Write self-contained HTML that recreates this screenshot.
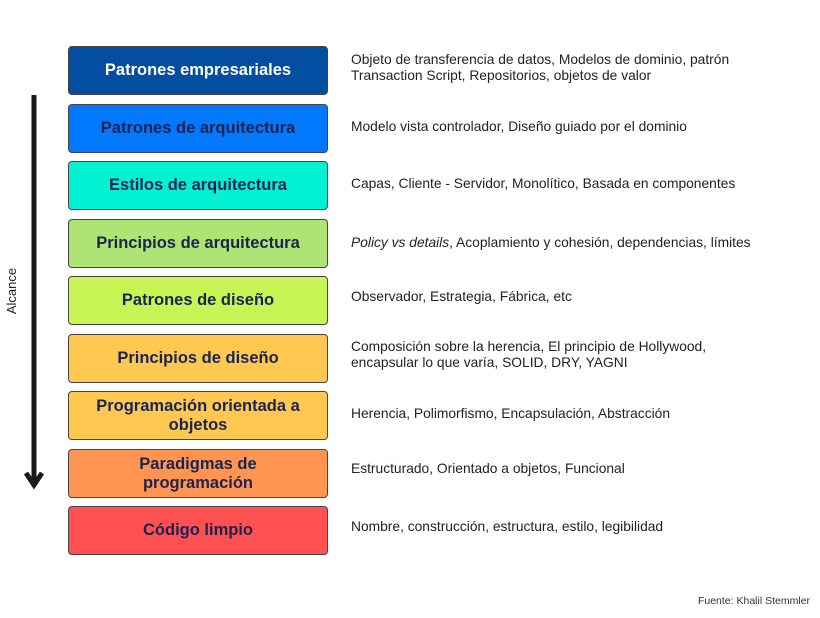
<!DOCTYPE html>
<html><head><meta charset="utf-8"><style>
body{margin:0;width:820px;height:618px;background:#fff;position:relative;font-family:"Liberation Sans",sans-serif;overflow:hidden}
.b{position:absolute;left:68px;width:258px;height:47px;border:1.5px solid #444;border-radius:4px;display:flex;align-items:center;justify-content:center;text-align:center;font-weight:bold;font-size:16.5px;line-height:19px;color:#1b2350}
.t{position:absolute;left:351px;font-size:13.8px;line-height:16px;color:#222;display:flex;align-items:center;height:49px;white-space:nowrap}
</style></head><body>
<div class="b" style="top:46px;background:#034ea0;color:#fff">Patrones empresariales</div>
<div class="b" style="top:104px;background:#0178fe">Patrones de arquitectura</div>
<div class="b" style="top:161px;background:#02f1d2">Estilos de arquitectura</div>
<div class="b" style="top:219px;background:#ade474">Principios de arquitectura</div>
<div class="b" style="top:276px;background:#c7f553">Patrones de diseño</div>
<div class="b" style="top:334px;background:#ffc851">Principios de diseño</div>
<div class="b" style="top:391px;background:#ffc851">Programación orientada a<br>objetos</div>
<div class="b" style="top:449px;background:#ff9551">Paradigmas de<br>programación</div>
<div class="b" style="top:506px;background:#ff5052">Código limpio</div>
<div class="t" style="top:43px">Objeto de transferencia de datos, Modelos de dominio, patrón<br>Transaction Script, Repositorios, objetos de valor</div>
<div class="t" style="top:102px">Modelo vista controlador, Diseño guiado por el dominio</div>
<div class="t" style="top:159px">Capas, Cliente - Servidor, Monolítico, Basada en componentes</div>
<div class="t" style="top:218px"><span><i>Policy vs details</i>, Acoplamiento y cohesión, dependencias, límites</span></div>
<div class="t" style="top:272px">Observador, Estrategia, Fábrica, etc</div>
<div class="t" style="top:330px">Composición sobre la herencia, El principio de Hollywood,<br>encapsular lo que varía, SOLID, DRY, YAGNI</div>
<div class="t" style="top:389px">Herencia, Polimorfismo, Encapsulación, Abstracción</div>
<div class="t" style="top:444px">Estructurado, Orientado a objetos, Funcional</div>
<div class="t" style="top:502px">Nombre, construcción, estructura, estilo, legibilidad</div>
<svg style="position:absolute;left:0;top:0" width="820" height="618">
<line x1="34" y1="95" x2="34" y2="484" stroke="#1a1a1a" stroke-width="5"/>
<polyline points="26,473 34,485 42,473" fill="none" stroke="#1a1a1a" stroke-width="5"/>
<text x="16" y="291" transform="rotate(-90 16 291)" text-anchor="middle" font-family="Liberation Sans" font-size="13" fill="#222">Alcance</text>
<text x="810" y="604" text-anchor="end" font-family="Liberation Sans" font-size="10.5" fill="#333">Fuente: Khalil Stemmler</text>
</svg>
</body></html>
